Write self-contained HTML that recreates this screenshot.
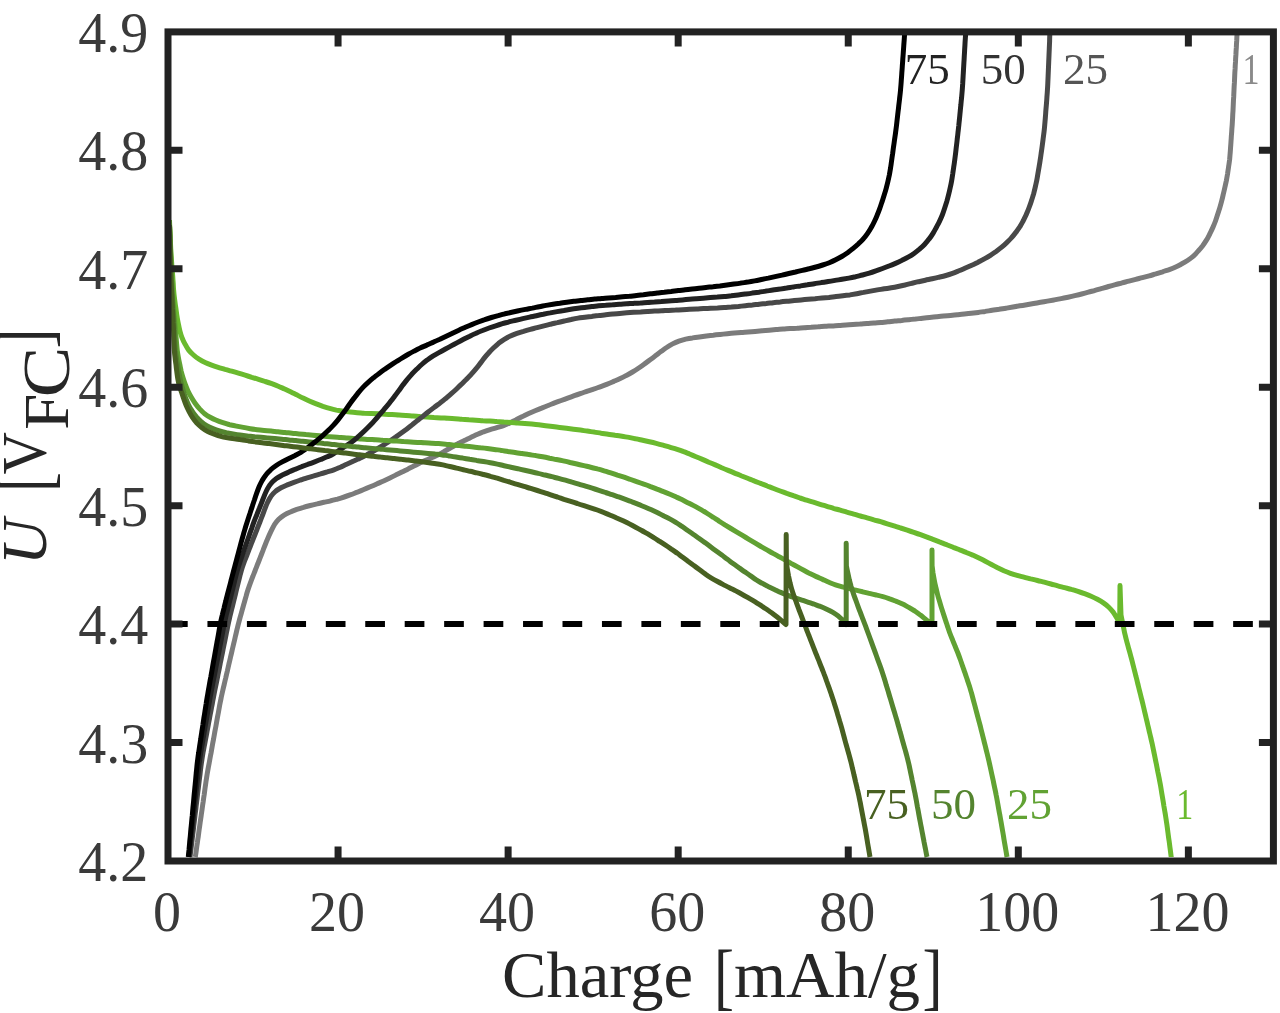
<!DOCTYPE html>
<html lang="en">
<head>
<meta charset="utf-8">
<title>Charge / discharge curves</title>
<style>
html,body{margin:0;padding:0;background:#fff;}
body{width:1280px;height:1013px;overflow:hidden;font-family:"Liberation Serif","DejaVu Serif",serif;}
svg{display:block;}
.curves path{fill:none;stroke-linejoin:round;stroke-linecap:butt;}
.tick{font-family:"Liberation Serif","DejaVu Serif",serif;font-size:56px;fill:#3a3a3a;}
.lab{font-family:"Liberation Serif","DejaVu Serif",serif;fill:#262626;}
.cyc{font-family:"Liberation Serif","DejaVu Serif",serif;font-size:45px;}
</style>
</head>
<body>
<svg width="1280" height="1013" viewBox="0 0 1280 1013">
<rect width="1280" height="1013" fill="#ffffff"/>
<clipPath id="plotclip"><rect x="168.00" y="31.90" width="1105.40" height="829.10"/></clipPath>
<g class="curves" clip-path="url(#plotclip)">
<path d="M195.3 857.0C195.5 855.8 196.0 852.4 196.3 850.1C196.6 847.8 196.9 845.4 197.3 843.1C197.6 840.8 197.9 838.5 198.3 836.2C198.6 833.9 198.9 831.6 199.2 829.3C199.6 827.0 199.9 824.7 200.2 822.3C200.5 820.0 200.9 817.7 201.2 815.4C201.5 813.1 201.9 810.8 202.2 808.5C202.5 806.2 202.8 803.9 203.2 801.6C203.5 799.2 203.8 796.9 204.2 794.6C204.5 792.3 204.8 790.0 205.1 787.7C205.5 785.4 205.8 783.1 206.1 780.8C206.5 778.5 206.8 776.2 207.2 773.9C207.6 771.6 208.0 769.3 208.4 767.0C208.9 764.7 209.3 762.4 209.7 760.1C210.1 757.8 210.5 755.5 211.0 753.2C211.4 750.9 211.8 748.6 212.2 746.3C212.6 744.0 213.0 741.7 213.5 739.4C213.9 737.1 214.3 734.8 214.7 732.5C215.1 730.2 215.6 727.9 216.0 725.6C216.4 723.3 216.8 721.0 217.2 718.8C217.6 716.5 218.1 714.2 218.5 711.9C218.9 709.6 219.3 707.3 219.7 705.0C220.2 702.7 220.6 700.4 221.1 698.1C221.5 695.8 222.1 693.6 222.6 691.3C223.1 689.0 223.6 686.7 224.2 684.5C224.7 682.2 225.2 679.9 225.8 677.6C226.3 675.4 226.8 673.1 227.4 670.8C227.9 668.6 228.4 666.3 228.9 664.0C229.5 661.7 230.0 659.5 230.5 657.2C231.1 654.9 231.6 652.7 232.1 650.4C232.7 648.1 233.2 645.8 233.7 643.6C234.3 641.3 234.8 639.0 235.3 636.7C235.9 634.5 236.4 632.2 236.9 629.9C237.5 627.7 238.0 625.4 238.6 623.1C239.2 620.9 239.8 618.6 240.4 616.4C241.1 614.1 241.7 611.9 242.3 609.6C242.9 607.4 243.6 605.1 244.2 602.9C244.8 600.7 245.4 598.4 246.1 596.2C246.7 593.9 247.3 591.7 248.1 589.4C248.8 587.2 249.6 585.0 250.4 582.8C251.2 580.7 252.0 578.5 252.9 576.3C253.7 574.1 254.6 572.0 255.4 569.8C256.3 567.6 257.1 565.4 258.0 563.3C258.8 561.1 259.7 558.9 260.5 556.8C261.4 554.6 262.2 552.4 263.1 550.2C263.9 548.1 264.7 545.9 265.6 543.7C266.5 541.5 267.4 539.4 268.3 537.3C269.2 535.1 270.2 533.0 271.2 530.9C272.2 528.8 273.2 526.7 274.4 524.7C275.7 522.8 277.1 520.9 278.7 519.3C280.3 517.7 282.2 516.3 284.1 515.1C286.1 513.9 288.2 512.9 290.3 512.0C292.4 511.0 294.6 510.2 296.8 509.4C299.0 508.7 301.3 508.0 303.5 507.4C305.7 506.7 308.0 506.1 310.3 505.5C312.5 504.9 314.8 504.4 317.1 503.9C319.3 503.3 321.6 502.8 323.9 502.3C326.2 501.8 328.5 501.4 330.7 500.8C333.0 500.3 335.2 499.7 337.5 499.1C339.7 498.4 342.0 497.7 344.2 497.0C346.4 496.3 348.6 495.5 350.8 494.7C353.0 493.9 355.1 493.0 357.3 492.2C359.5 491.3 361.6 490.4 363.8 489.5C365.9 488.6 368.1 487.7 370.2 486.8C372.4 485.9 374.5 485.0 376.7 484.0C378.8 483.1 380.9 482.1 383.0 481.2C385.2 480.2 387.3 479.2 389.4 478.2C391.5 477.2 393.6 476.2 395.7 475.1C397.8 474.1 399.9 473.1 401.9 472.0C404.0 471.0 406.1 469.9 408.2 468.9C410.3 467.8 412.3 466.7 414.4 465.7C416.5 464.7 418.6 463.6 420.7 462.6C422.8 461.6 425.0 460.7 427.1 459.7C429.2 458.8 431.4 457.8 433.5 456.9C435.6 455.9 437.7 454.9 439.8 453.9C441.9 452.8 443.9 451.6 445.9 450.5C448.0 449.4 449.9 448.1 452.0 447.0C454.0 445.8 456.1 444.7 458.1 443.6C460.2 442.6 462.3 441.5 464.4 440.5C466.5 439.5 468.6 438.4 470.7 437.4C472.8 436.4 474.9 435.5 477.0 434.5C479.2 433.6 481.3 432.7 483.5 431.8C485.7 431.0 487.9 430.3 490.1 429.6C492.3 428.9 494.6 428.4 496.8 427.7C499.1 427.0 501.3 426.4 503.5 425.6C505.7 424.8 507.8 423.9 509.9 422.9C512.0 421.9 514.1 420.8 516.2 419.8C518.2 418.7 520.3 417.6 522.4 416.6C524.5 415.5 526.6 414.5 528.7 413.5C530.8 412.5 532.9 411.6 535.1 410.7C537.2 409.8 539.4 408.9 541.6 408.1C543.7 407.2 545.9 406.3 548.1 405.5C550.2 404.6 552.4 403.8 554.6 402.9C556.8 402.1 559.0 401.3 561.2 400.5C563.4 399.7 565.5 398.9 567.7 398.1C569.9 397.3 572.1 396.5 574.3 395.7C576.5 395.0 578.7 394.2 580.9 393.4C583.1 392.6 585.3 391.9 587.5 391.1C589.8 390.4 592.0 389.6 594.2 388.9C596.4 388.1 598.6 387.4 600.8 386.6C603.0 385.8 605.2 385.0 607.3 384.1C609.5 383.3 611.7 382.3 613.8 381.4C615.9 380.5 618.1 379.6 620.2 378.6C622.3 377.6 624.4 376.5 626.4 375.4C628.5 374.4 630.5 373.2 632.5 372.0C634.5 370.8 636.5 369.5 638.4 368.2C640.3 366.9 642.2 365.6 644.1 364.2C646.0 362.8 647.9 361.5 649.8 360.1C651.7 358.7 653.5 357.3 655.3 355.8C657.2 354.4 659.0 353.0 660.9 351.6C662.8 350.2 664.6 348.8 666.6 347.5C668.5 346.2 670.5 345.0 672.6 343.9C674.6 342.9 676.8 341.9 678.9 341.1C681.1 340.3 683.4 339.7 685.6 339.1C687.9 338.6 690.2 338.2 692.5 337.9C694.8 337.5 697.1 337.2 699.4 336.9C701.7 336.6 704.0 336.3 706.4 336.0C708.7 335.7 711.0 335.4 713.3 335.2C715.6 334.9 718.0 334.7 720.3 334.5C722.6 334.2 724.9 334.0 727.2 333.8C729.6 333.6 731.9 333.4 734.2 333.1C736.5 332.9 738.9 332.7 741.2 332.5C743.5 332.3 745.8 332.2 748.2 332.0C750.5 331.8 752.8 331.6 755.1 331.4C757.5 331.2 759.8 331.0 762.1 330.8C764.4 330.6 766.8 330.4 769.1 330.2C771.4 330.0 773.7 329.8 776.1 329.6C778.4 329.4 780.7 329.3 783.0 329.1C785.4 328.9 787.7 328.8 790.0 328.6C792.4 328.5 794.7 328.3 797.0 328.2C799.3 328.0 801.7 327.9 804.0 327.7C806.3 327.6 808.7 327.4 811.0 327.3C813.3 327.1 815.6 326.9 818.0 326.8C820.3 326.6 822.6 326.5 824.9 326.3C827.3 326.2 829.6 326.0 831.9 325.9C834.3 325.7 836.6 325.6 838.9 325.4C841.2 325.2 843.6 325.1 845.9 324.9C848.2 324.8 850.6 324.6 852.9 324.4C855.2 324.3 857.5 324.1 859.9 324.0C862.2 323.8 864.5 323.7 866.9 323.5C869.2 323.3 871.5 323.2 873.8 323.0C876.2 322.8 878.5 322.7 880.8 322.5C883.1 322.3 885.5 322.0 887.8 321.8C890.1 321.6 892.4 321.3 894.7 321.1C897.1 320.9 899.4 320.6 901.7 320.4C904.0 320.1 906.4 319.9 908.7 319.7C911.0 319.4 913.3 319.2 915.6 319.0C918.0 318.7 920.3 318.5 922.6 318.2C924.9 318.0 927.2 317.8 929.6 317.5C931.9 317.3 934.2 317.1 936.5 316.8C938.8 316.6 941.2 316.4 943.5 316.1C945.8 315.9 948.1 315.7 950.5 315.4C952.8 315.2 955.1 315.0 957.4 314.7C959.7 314.5 962.1 314.3 964.4 314.0C966.7 313.8 969.0 313.6 971.3 313.3C973.7 313.0 976.0 312.7 978.3 312.4C980.6 312.1 982.9 311.7 985.2 311.4C987.5 311.0 989.8 310.7 992.1 310.3C994.4 310.0 996.8 309.6 999.1 309.3C1001.4 308.9 1003.7 308.6 1006.0 308.2C1008.3 307.8 1010.6 307.4 1012.9 307.0C1015.2 306.6 1017.5 306.2 1019.8 305.8C1022.1 305.5 1024.4 305.1 1026.7 304.7C1029.0 304.3 1031.3 303.9 1033.6 303.5C1035.9 303.1 1038.2 302.7 1040.5 302.3C1042.8 301.9 1045.1 301.5 1047.4 301.1C1049.7 300.7 1052.0 300.3 1054.3 299.9C1056.6 299.5 1058.9 299.1 1061.1 298.6C1063.4 298.2 1065.7 297.7 1068.0 297.2C1070.3 296.7 1072.5 296.2 1074.8 295.6C1077.1 295.1 1079.4 294.6 1081.6 294.0C1083.9 293.4 1086.1 292.8 1088.4 292.2C1090.6 291.6 1092.9 290.9 1095.1 290.3C1097.4 289.7 1099.6 289.0 1101.9 288.4C1104.1 287.8 1106.4 287.2 1108.6 286.5C1110.9 285.9 1113.1 285.3 1115.4 284.7C1117.6 284.1 1119.9 283.4 1122.1 282.8C1124.4 282.2 1126.6 281.7 1128.9 281.1C1131.1 280.5 1133.4 279.9 1135.7 279.3C1137.9 278.7 1140.2 278.2 1142.4 277.6C1144.7 277.0 1147.0 276.4 1149.2 275.8C1151.5 275.2 1153.7 274.5 1155.9 273.9C1158.2 273.2 1160.4 272.5 1162.6 271.8C1164.8 271.0 1167.1 270.4 1169.3 269.6C1171.5 268.8 1173.6 268.0 1175.7 267.0C1177.9 266.1 1179.9 264.9 1181.9 263.8C1183.9 262.7 1186.0 261.5 1187.9 260.2C1189.8 258.9 1191.7 257.6 1193.4 256.1C1195.2 254.5 1196.7 252.8 1198.2 251.0C1199.8 249.3 1201.3 247.5 1202.7 245.7C1204.1 243.8 1205.4 241.9 1206.6 239.9C1207.8 238.0 1208.8 235.8 1209.9 233.8C1210.9 231.7 1211.9 229.6 1212.9 227.4C1213.8 225.3 1214.7 223.2 1215.5 221.0C1216.3 218.8 1217.0 216.5 1217.7 214.3C1218.4 212.1 1219.1 209.9 1219.8 207.7C1220.5 205.4 1221.1 203.2 1221.7 200.9C1222.3 198.7 1222.8 196.4 1223.3 194.1C1223.9 191.9 1224.4 189.6 1224.9 187.3C1225.4 185.0 1225.9 182.8 1226.4 180.5C1226.8 178.2 1227.2 175.9 1227.6 173.6C1227.9 171.3 1228.3 169.0 1228.6 166.7C1229.0 164.3 1229.3 162.0 1229.6 159.7C1229.8 157.4 1230.0 155.1 1230.2 152.8C1230.4 150.4 1230.5 148.1 1230.7 145.8C1230.9 143.4 1231.0 141.1 1231.2 138.8C1231.3 136.5 1231.5 134.1 1231.7 131.8C1231.8 129.5 1232.0 127.1 1232.2 124.8C1232.3 122.5 1232.5 120.2 1232.6 117.8C1232.7 115.5 1232.8 113.2 1233.0 110.8C1233.1 108.5 1233.2 106.2 1233.3 103.9C1233.4 101.5 1233.5 99.2 1233.7 96.9C1233.8 94.5 1233.9 92.2 1234.0 89.9C1234.1 87.5 1234.2 85.2 1234.4 82.9C1234.5 80.5 1234.6 78.2 1234.7 75.9C1234.8 73.6 1234.9 71.2 1235.1 68.9C1235.2 66.6 1235.3 64.2 1235.5 61.9C1235.6 59.6 1235.7 57.2 1235.9 54.9C1236.0 52.6 1236.1 50.3 1236.3 47.9C1236.4 45.6 1236.5 43.3 1236.7 40.9C1236.8 38.6 1236.9 36.1 1237.0 34.0C1237.1 31.8 1237.2 29.0 1237.2 28.0" stroke="#7b7b7b" stroke-width="5.0"/>
<path d="M169.5 220.0C169.5 221.2 169.7 224.7 169.8 227.0C169.9 229.3 170.0 231.7 170.1 234.0C170.2 236.3 170.3 238.6 170.4 241.0C170.5 243.3 170.6 245.6 170.7 248.0C170.8 250.3 170.9 252.6 171.1 255.0C171.2 257.3 171.4 259.6 171.6 261.9C171.7 264.3 171.9 266.6 172.1 268.9C172.3 271.2 172.5 273.6 172.7 275.9C172.8 278.2 173.0 280.6 173.2 282.9C173.3 285.2 173.4 287.5 173.6 289.9C173.8 292.2 174.0 294.5 174.3 296.8C174.6 299.1 174.9 301.5 175.2 303.8C175.5 306.1 175.9 308.4 176.2 310.7C176.5 313.0 176.8 315.3 177.2 317.6C177.6 319.9 178.0 322.2 178.5 324.5C178.9 326.8 179.4 329.1 180.0 331.3C180.6 333.6 181.2 335.8 182.1 337.9C182.9 340.1 183.9 342.2 185.1 344.2C186.2 346.3 187.3 348.3 188.7 350.1C190.1 351.9 191.8 353.5 193.5 355.0C195.2 356.6 197.1 358.0 199.0 359.2C201.0 360.5 203.0 361.5 205.1 362.5C207.2 363.5 209.4 364.3 211.6 365.1C213.8 365.9 216.0 366.6 218.2 367.3C220.5 368.0 222.7 368.6 225.0 369.3C227.2 369.9 229.4 370.6 231.7 371.2C233.9 371.9 236.2 372.6 238.4 373.2C240.6 373.9 242.9 374.6 245.1 375.2C247.3 375.9 249.6 376.6 251.8 377.3C254.0 377.9 256.3 378.6 258.5 379.3C260.7 380.0 262.9 380.7 265.2 381.5C267.4 382.2 269.6 382.9 271.8 383.7C274.0 384.5 276.2 385.3 278.3 386.2C280.5 387.1 282.6 388.1 284.7 389.0C286.8 390.0 288.9 391.0 291.0 392.0C293.1 393.0 295.2 394.1 297.3 395.1C299.4 396.2 301.5 397.3 303.6 398.3C305.6 399.3 307.7 400.3 309.9 401.3C312.0 402.2 314.2 403.1 316.3 403.9C318.5 404.8 320.7 405.6 322.9 406.4C325.1 407.1 327.3 407.8 329.6 408.4C331.8 409.0 334.1 409.6 336.4 410.1C338.7 410.5 340.9 410.9 343.3 411.3C345.6 411.6 347.9 411.8 350.2 412.0C352.5 412.3 354.8 412.5 357.2 412.7C359.5 412.9 361.8 413.0 364.2 413.2C366.5 413.3 368.8 413.4 371.1 413.5C373.5 413.6 375.8 413.7 378.1 413.8C380.5 413.9 382.8 414.0 385.1 414.2C387.5 414.3 389.8 414.5 392.1 414.6C394.4 414.7 396.8 414.9 399.1 415.0C401.4 415.2 403.8 415.3 406.1 415.4C408.4 415.6 410.7 415.7 413.1 415.9C415.4 416.1 417.7 416.2 420.1 416.4C422.4 416.5 424.7 416.7 427.0 416.9C429.4 417.0 431.7 417.2 434.0 417.4C436.3 417.5 438.7 417.7 441.0 417.9C443.3 418.0 445.7 418.2 448.0 418.3C450.3 418.5 452.6 418.7 455.0 418.8C457.3 419.0 459.6 419.1 462.0 419.3C464.3 419.4 466.6 419.6 468.9 419.8C471.3 419.9 473.6 420.1 475.9 420.2C478.3 420.4 480.6 420.5 482.9 420.7C485.2 420.8 487.6 421.0 489.9 421.1C492.2 421.3 494.6 421.4 496.9 421.6C499.2 421.7 501.5 421.9 503.9 422.1C506.2 422.2 508.5 422.4 510.9 422.5C513.2 422.7 515.5 422.8 517.8 423.0C520.2 423.1 522.5 423.3 524.8 423.4C527.1 423.6 529.5 423.8 531.8 424.0C534.1 424.3 536.4 424.6 538.7 424.8C541.1 425.1 543.4 425.4 545.7 425.7C548.0 426.0 550.3 426.3 552.6 426.6C554.9 426.9 557.3 427.2 559.6 427.4C561.9 427.7 564.2 428.0 566.5 428.3C568.8 428.6 571.2 428.9 573.5 429.2C575.8 429.5 578.1 429.8 580.4 430.1C582.7 430.4 585.0 430.8 587.3 431.1C589.6 431.4 592.0 431.8 594.3 432.1C596.6 432.5 598.9 432.8 601.2 433.2C603.5 433.5 605.8 433.9 608.1 434.2C610.4 434.6 612.7 434.9 615.0 435.3C617.3 435.6 619.6 435.9 622.0 436.3C624.3 436.7 626.6 437.0 628.9 437.4C631.2 437.8 633.4 438.3 635.7 438.8C638.0 439.2 640.3 439.8 642.6 440.3C644.8 440.8 647.1 441.3 649.4 441.8C651.7 442.3 653.9 442.8 656.2 443.4C658.5 444.0 660.7 444.6 663.0 445.2C665.2 445.8 667.5 446.5 669.7 447.1C671.9 447.8 674.2 448.4 676.4 449.1C678.6 449.8 680.8 450.5 683.0 451.4C685.2 452.2 687.3 453.1 689.5 454.0C691.7 454.9 693.8 455.8 696.0 456.7C698.1 457.6 700.3 458.5 702.4 459.4C704.6 460.3 706.7 461.2 708.8 462.2C711.0 463.1 713.1 464.0 715.3 464.9C717.4 465.8 719.6 466.8 721.7 467.7C723.9 468.6 726.0 469.5 728.1 470.4C730.3 471.3 732.5 472.2 734.6 473.1C736.8 474.0 739.0 474.8 741.1 475.7C743.3 476.6 745.4 477.4 747.6 478.3C749.8 479.2 752.0 480.0 754.1 480.9C756.3 481.7 758.5 482.6 760.6 483.4C762.8 484.3 765.0 485.1 767.2 486.0C769.3 486.8 771.5 487.7 773.7 488.5C775.9 489.4 778.0 490.2 780.2 491.0C782.4 491.8 784.6 492.6 786.8 493.4C789.0 494.1 791.2 494.9 793.4 495.7C795.6 496.4 797.8 497.2 800.0 498.0C802.2 498.7 804.5 499.5 806.7 500.2C808.9 500.9 811.1 501.6 813.4 502.2C815.6 502.9 817.8 503.6 820.1 504.3C822.3 505.0 824.5 505.6 826.8 506.3C829.0 507.0 831.2 507.6 833.5 508.3C835.7 508.9 838.0 509.6 840.2 510.2C842.4 510.9 844.7 511.5 846.9 512.2C849.2 512.8 851.4 513.5 853.7 514.1C855.9 514.7 858.1 515.4 860.4 516.0C862.6 516.6 864.9 517.3 867.1 517.9C869.4 518.5 871.6 519.1 873.9 519.8C876.1 520.4 878.4 521.1 880.6 521.7C882.8 522.4 885.1 523.1 887.3 523.8C889.5 524.5 891.7 525.2 894.0 525.9C896.2 526.6 898.4 527.2 900.6 528.0C902.9 528.7 905.1 529.4 907.3 530.1C909.5 530.9 911.7 531.7 913.9 532.4C916.1 533.2 918.3 534.0 920.5 534.7C922.7 535.5 924.9 536.3 927.1 537.1C929.3 538.0 931.5 538.8 933.6 539.6C935.8 540.5 938.0 541.3 940.2 542.2C942.3 543.0 944.5 543.9 946.7 544.7C948.9 545.6 951.0 546.4 953.2 547.3C955.4 548.1 957.5 549.0 959.7 549.9C961.9 550.7 964.0 551.6 966.2 552.5C968.4 553.4 970.5 554.2 972.7 555.1C974.8 556.1 976.9 557.1 979.0 558.1C981.1 559.1 983.2 560.1 985.3 561.2C987.3 562.3 989.4 563.4 991.4 564.5C993.5 565.6 995.5 566.7 997.6 567.8C999.7 568.8 1001.8 569.8 1003.9 570.8C1006.1 571.7 1008.3 572.6 1010.4 573.3C1012.6 574.1 1014.9 574.8 1017.1 575.4C1019.3 576.1 1021.6 576.6 1023.9 577.2C1026.1 577.8 1028.4 578.3 1030.7 578.9C1032.9 579.4 1035.2 579.9 1037.5 580.5C1039.7 581.1 1042.0 581.6 1044.3 582.2C1046.5 582.8 1048.8 583.4 1051.0 584.0C1053.3 584.6 1055.5 585.3 1057.8 585.9C1060.0 586.5 1062.3 587.0 1064.6 587.6C1066.8 588.2 1069.1 588.7 1071.3 589.4C1073.6 590.0 1075.8 590.7 1078.0 591.4C1080.2 592.2 1082.4 593.0 1084.6 593.7C1086.8 594.5 1089.0 595.3 1091.1 596.2C1093.3 597.2 1095.4 598.2 1097.4 599.3C1099.4 600.4 1101.5 601.6 1103.4 602.9C1105.3 604.2 1107.1 605.6 1108.8 607.2C1110.5 608.8 1112.0 610.6 1113.4 612.4C1114.8 614.3 1115.9 616.3 1117.0 618.3C1118.0 620.4 1119.2 623.5 1119.7 624.5L1120.0 585.6L1121.0 615.0C1121.2 616.1 1121.9 619.6 1122.4 621.9C1122.8 624.2 1123.3 626.4 1123.8 628.7C1124.2 631.0 1124.7 633.3 1125.3 635.6C1125.8 637.8 1126.4 640.1 1127.0 642.3C1127.6 644.6 1128.2 646.8 1128.8 649.1C1129.5 651.3 1130.1 653.6 1130.7 655.8C1131.3 658.1 1131.9 660.3 1132.5 662.6C1133.1 664.9 1133.6 667.1 1134.2 669.4C1134.8 671.7 1135.4 673.9 1135.9 676.2C1136.5 678.4 1137.1 680.7 1137.6 683.0C1138.2 685.2 1138.7 687.5 1139.3 689.8C1139.9 692.0 1140.4 694.3 1141.0 696.6C1141.6 698.8 1142.1 701.1 1142.7 703.3C1143.2 705.6 1143.8 707.9 1144.3 710.2C1144.8 712.4 1145.4 714.7 1145.9 717.0C1146.4 719.2 1147.0 721.5 1147.5 723.8C1148.0 726.1 1148.6 728.3 1149.1 730.6C1149.6 732.9 1150.2 735.1 1150.7 737.4C1151.2 739.7 1151.8 742.0 1152.3 744.2C1152.8 746.5 1153.2 748.8 1153.7 751.1C1154.2 753.4 1154.6 755.7 1155.1 758.0C1155.5 760.2 1156.0 762.5 1156.5 764.8C1156.9 767.1 1157.4 769.4 1157.8 771.7C1158.3 774.0 1158.8 776.3 1159.2 778.5C1159.6 780.8 1160.1 783.1 1160.5 785.4C1160.9 787.7 1161.3 790.0 1161.6 792.3C1162.0 794.6 1162.4 796.9 1162.8 799.2C1163.2 801.5 1163.6 803.8 1163.9 806.1C1164.3 808.4 1164.7 810.7 1165.1 813.0C1165.5 815.3 1165.8 817.6 1166.2 820.0C1166.5 822.3 1166.9 824.6 1167.2 826.9C1167.5 829.2 1167.8 831.5 1168.1 833.8C1168.4 836.1 1168.7 838.4 1169.1 840.8C1169.4 843.1 1169.7 845.4 1170.0 847.7C1170.3 850.0 1170.7 853.1 1170.9 854.6C1171.1 856.2 1171.2 856.6 1171.2 857.0" stroke="#6aba2e" stroke-width="5.0"/>
<path d="M190.0 857.0C190.1 855.8 190.6 852.4 190.8 850.1C191.1 847.7 191.4 845.4 191.7 843.1C192.0 840.8 192.2 838.5 192.5 836.2C192.8 833.8 193.1 831.5 193.4 829.2C193.6 826.9 193.9 824.6 194.2 822.3C194.5 819.9 194.8 817.6 195.0 815.3C195.3 813.0 195.6 810.7 195.9 808.4C196.1 806.0 196.4 803.7 196.7 801.4C197.0 799.1 197.3 796.8 197.5 794.5C197.8 792.1 198.1 789.8 198.4 787.5C198.7 785.2 198.9 782.9 199.2 780.6C199.5 778.2 199.8 775.9 200.1 773.6C200.3 771.3 200.6 769.0 200.9 766.7C201.2 764.3 201.5 762.0 201.9 759.7C202.2 757.4 202.6 755.1 203.0 752.8C203.5 750.5 203.9 748.2 204.3 745.9C204.8 743.7 205.2 741.4 205.6 739.1C206.0 736.8 206.5 734.5 206.9 732.2C207.3 729.9 207.8 727.6 208.2 725.3C208.6 723.0 209.0 720.7 209.5 718.4C209.9 716.1 210.3 713.8 210.8 711.5C211.2 709.3 211.6 707.0 212.1 704.7C212.5 702.4 212.9 700.1 213.4 697.8C213.8 695.5 214.3 693.2 214.7 690.9C215.2 688.6 215.6 686.3 216.1 684.1C216.6 681.8 217.0 679.5 217.5 677.2C217.9 674.9 218.4 672.6 218.9 670.3C219.3 668.0 219.8 665.8 220.2 663.5C220.7 661.2 221.2 658.9 221.6 656.6C222.1 654.3 222.6 652.0 223.0 649.7C223.5 647.5 223.9 645.2 224.4 642.9C224.9 640.6 225.3 638.3 225.8 636.0C226.2 633.7 226.7 631.4 227.2 629.2C227.6 626.9 228.1 624.6 228.6 622.3C229.1 620.0 229.6 617.8 230.1 615.5C230.7 613.2 231.2 611.0 231.8 608.7C232.4 606.4 232.9 604.2 233.5 601.9C234.0 599.6 234.6 597.4 235.2 595.1C235.7 592.8 236.3 590.6 236.8 588.3C237.4 586.0 238.0 583.8 238.5 581.5C239.1 579.2 239.6 577.0 240.2 574.7C240.8 572.5 241.4 570.2 242.1 568.0C242.8 565.8 243.6 563.6 244.4 561.4C245.2 559.2 246.1 557.0 247.0 554.9C247.8 552.7 248.7 550.5 249.5 548.4C250.4 546.2 251.2 544.0 252.1 541.8C252.9 539.7 253.8 537.5 254.7 535.3C255.5 533.2 256.4 531.0 257.2 528.8C258.1 526.6 258.9 524.5 259.8 522.3C260.6 520.1 261.4 517.9 262.3 515.8C263.1 513.6 263.9 511.4 264.7 509.2C265.6 507.0 266.4 504.8 267.4 502.7C268.4 500.6 269.4 498.5 270.7 496.7C272.0 494.8 273.5 493.0 275.2 491.6C276.9 490.1 279.0 488.9 281.0 487.8C283.0 486.7 285.2 485.8 287.3 484.9C289.5 484.0 291.7 483.2 293.9 482.4C296.0 481.6 298.2 480.8 300.5 480.0C302.7 479.3 304.9 478.5 307.1 477.8C309.3 477.1 311.6 476.4 313.8 475.8C316.0 475.1 318.3 474.4 320.5 473.8C322.7 473.1 325.0 472.5 327.2 471.9C329.5 471.2 331.7 470.6 333.9 469.8C336.1 469.0 338.2 468.1 340.4 467.2C342.5 466.3 344.6 465.2 346.7 464.3C348.9 463.3 351.0 462.3 353.1 461.3C355.2 460.4 357.3 459.4 359.5 458.4C361.6 457.4 363.7 456.5 365.8 455.4C367.9 454.4 369.9 453.2 371.9 452.1C373.9 450.9 375.9 449.7 377.9 448.5C379.9 447.3 381.9 446.1 383.9 444.8C385.9 443.6 387.8 442.3 389.8 441.0C391.7 439.7 393.6 438.4 395.6 437.1C397.5 435.8 399.4 434.4 401.3 433.0C403.1 431.7 405.0 430.3 406.9 428.9C408.7 427.5 410.6 426.0 412.4 424.6C414.3 423.1 416.1 421.7 417.9 420.2C419.7 418.8 421.5 417.3 423.4 415.9C425.2 414.4 427.0 412.9 428.8 411.5C430.7 410.1 432.5 408.6 434.4 407.2C436.2 405.8 438.2 404.5 440.0 403.1C441.9 401.7 443.7 400.2 445.5 398.7C447.3 397.3 449.1 395.7 450.8 394.2C452.6 392.6 454.3 391.1 456.0 389.5C457.7 387.9 459.3 386.2 461.0 384.6C462.7 383.0 464.3 381.3 466.0 379.7C467.6 378.0 469.3 376.4 470.9 374.7C472.4 373.0 474.0 371.2 475.5 369.4C477.0 367.6 478.4 365.8 479.8 363.9C481.2 362.1 482.6 360.2 484.0 358.4C485.5 356.5 487.0 354.7 488.6 353.0C490.1 351.3 491.7 349.6 493.4 348.0C495.1 346.4 496.8 344.8 498.6 343.3C500.4 341.9 502.3 340.5 504.3 339.3C506.3 338.1 508.3 337.0 510.4 336.0C512.5 335.0 514.7 334.2 516.9 333.4C519.1 332.6 521.3 331.9 523.5 331.3C525.8 330.6 528.0 330.0 530.3 329.4C532.6 328.8 534.8 328.3 537.1 327.7C539.3 327.1 541.6 326.5 543.9 325.9C546.1 325.4 548.4 324.8 550.6 324.2C552.9 323.7 555.2 323.1 557.4 322.6C559.7 322.0 562.0 321.5 564.3 321.0C566.5 320.5 568.8 319.9 571.1 319.5C573.4 319.0 575.7 318.5 578.0 318.1C580.3 317.7 582.6 317.5 584.9 317.2C587.2 316.9 589.5 316.6 591.8 316.4C594.2 316.1 596.5 315.8 598.8 315.6C601.1 315.3 603.4 315.1 605.8 314.8C608.1 314.6 610.4 314.4 612.7 314.1C615.0 313.9 617.4 313.7 619.7 313.4C622.0 313.2 624.3 313.0 626.7 312.8C629.0 312.6 631.3 312.4 633.6 312.2C636.0 312.1 638.3 312.0 640.6 311.9C642.9 311.7 645.3 311.6 647.6 311.5C649.9 311.4 652.3 311.3 654.6 311.1C656.9 311.0 659.3 310.9 661.6 310.8C663.9 310.7 666.3 310.5 668.6 310.4C670.9 310.3 673.2 310.2 675.6 310.1C677.9 309.9 680.2 309.8 682.6 309.7C684.9 309.6 687.2 309.5 689.6 309.3C691.9 309.2 694.2 309.1 696.5 309.0C698.9 308.9 701.2 308.7 703.5 308.6C705.9 308.5 708.2 308.4 710.5 308.2C712.9 308.1 715.2 308.0 717.5 307.9C719.8 307.7 722.2 307.6 724.5 307.5C726.8 307.3 729.2 307.2 731.5 307.0C733.8 306.8 736.1 306.6 738.5 306.4C740.8 306.1 743.1 305.9 745.4 305.7C747.7 305.5 750.1 305.2 752.4 305.0C754.7 304.7 757.0 304.5 759.3 304.2C761.7 304.0 764.0 303.7 766.3 303.5C768.6 303.2 770.9 303.0 773.3 302.7C775.6 302.5 777.9 302.2 780.2 302.0C782.5 301.7 784.9 301.5 787.2 301.3C789.5 301.1 791.8 300.8 794.2 300.6C796.5 300.4 798.8 300.2 801.1 299.9C803.4 299.7 805.8 299.5 808.1 299.3C810.4 299.1 812.7 298.9 815.1 298.7C817.4 298.4 819.7 298.2 822.0 298.0C824.4 297.8 826.7 297.6 829.0 297.4C831.3 297.1 833.6 296.9 836.0 296.6C838.3 296.4 840.6 296.1 842.9 295.8C845.2 295.5 847.6 295.2 849.9 294.9C852.2 294.5 854.5 294.1 856.7 293.7C859.0 293.3 861.3 292.8 863.6 292.4C865.9 291.9 868.2 291.5 870.5 291.1C872.8 290.7 875.1 290.3 877.4 289.9C879.7 289.5 882.0 289.2 884.3 288.8C886.6 288.5 888.9 288.1 891.2 287.7C893.5 287.4 895.8 287.0 898.1 286.5C900.4 286.0 902.7 285.5 904.9 285.0C907.2 284.4 909.5 283.9 911.8 283.3C914.0 282.8 916.3 282.3 918.6 281.7C920.8 281.2 923.1 280.7 925.4 280.2C927.7 279.7 930.0 279.3 932.2 278.8C934.5 278.3 936.8 277.8 939.1 277.2C941.3 276.7 943.6 276.2 945.9 275.5C948.1 274.9 950.3 274.2 952.5 273.4C954.7 272.6 956.8 271.7 959.0 270.8C961.1 269.9 963.3 269.0 965.4 268.0C967.6 267.1 969.7 266.2 971.8 265.2C974.0 264.3 976.0 263.2 978.1 262.2C980.2 261.1 982.3 260.1 984.3 258.9C986.4 257.8 988.4 256.7 990.4 255.4C992.3 254.2 994.2 252.8 996.1 251.5C998.0 250.1 999.9 248.7 1001.7 247.2C1003.5 245.7 1005.2 244.2 1006.9 242.5C1008.5 240.9 1010.2 239.3 1011.7 237.5C1013.3 235.8 1014.7 234.0 1016.1 232.1C1017.5 230.3 1018.8 228.3 1020.1 226.4C1021.3 224.4 1022.4 222.3 1023.5 220.3C1024.5 218.2 1025.6 216.1 1026.5 214.0C1027.4 211.8 1028.3 209.7 1029.1 207.5C1029.9 205.3 1030.7 203.1 1031.4 200.9C1032.2 198.7 1032.8 196.4 1033.5 194.2C1034.1 191.9 1034.7 189.7 1035.2 187.4C1035.7 185.1 1036.2 182.9 1036.7 180.6C1037.2 178.3 1037.5 176.0 1037.9 173.7C1038.3 171.4 1038.7 169.1 1039.1 166.8C1039.5 164.5 1039.9 162.2 1040.2 159.9C1040.6 157.6 1040.9 155.3 1041.2 153.0C1041.6 150.6 1041.9 148.3 1042.2 146.0C1042.5 143.7 1042.8 141.4 1043.1 139.1C1043.4 136.8 1043.7 134.5 1044.0 132.1C1044.3 129.8 1044.5 127.5 1044.7 125.2C1044.9 122.9 1045.1 120.5 1045.3 118.2C1045.5 115.9 1045.7 113.6 1045.8 111.2C1046.0 108.9 1046.2 106.6 1046.4 104.2C1046.6 101.9 1046.8 99.6 1046.9 97.3C1047.1 94.9 1047.3 92.6 1047.4 90.3C1047.6 88.0 1047.7 85.6 1047.8 83.3C1047.9 81.0 1048.0 78.6 1048.1 76.3C1048.2 74.0 1048.3 71.6 1048.4 69.3C1048.5 67.0 1048.6 64.6 1048.7 62.3C1048.8 60.0 1048.9 57.7 1049.0 55.3C1049.1 53.0 1049.2 50.7 1049.3 48.3C1049.4 46.0 1049.5 43.7 1049.6 41.3C1049.6 39.0 1049.7 36.6 1049.8 34.3C1049.9 32.1 1050.0 29.1 1050.0 28.0" stroke="#484848" stroke-width="5.0"/>
<path d="M169.5 225.0C169.6 226.2 169.7 229.7 169.8 232.0C169.9 234.3 170.0 236.7 170.1 239.0C170.2 241.3 170.3 243.6 170.4 246.0C170.5 248.3 170.6 250.6 170.7 253.0C170.8 255.3 170.9 257.6 171.1 260.0C171.2 262.3 171.3 264.6 171.4 267.0C171.5 269.3 171.6 271.6 171.7 274.0C171.8 276.3 171.9 278.6 172.0 280.9C172.2 283.3 172.3 285.6 172.4 287.9C172.5 290.3 172.6 292.6 172.8 294.9C172.9 297.3 173.0 299.6 173.2 301.9C173.4 304.2 173.6 306.6 173.7 308.9C173.9 311.2 174.1 313.5 174.3 315.9C174.5 318.2 174.7 320.5 174.9 322.8C175.1 325.2 175.3 327.5 175.5 329.8C175.7 332.1 175.8 334.5 176.0 336.8C176.2 339.1 176.4 341.4 176.6 343.8C176.8 346.1 177.0 348.4 177.3 350.7C177.6 353.0 178.0 355.3 178.4 357.6C178.8 359.9 179.3 362.2 179.8 364.5C180.2 366.8 180.7 369.1 181.2 371.3C181.8 373.6 182.4 375.8 183.1 378.1C183.8 380.3 184.5 382.5 185.4 384.7C186.2 386.9 187.0 389.0 188.0 391.1C189.0 393.2 190.1 395.3 191.3 397.3C192.5 399.3 193.7 401.3 195.1 403.2C196.4 405.0 197.9 406.9 199.4 408.6C201.0 410.3 202.6 412.0 204.3 413.5C206.1 414.9 208.1 416.2 210.1 417.3C212.1 418.4 214.2 419.4 216.4 420.3C218.5 421.3 220.7 422.0 222.9 422.7C225.1 423.5 227.4 424.1 229.6 424.7C231.9 425.2 234.2 425.7 236.5 426.1C238.7 426.6 241.0 427.0 243.3 427.4C245.6 427.9 247.9 428.3 250.2 428.7C252.5 429.1 254.8 429.4 257.1 429.7C259.5 430.0 261.8 430.2 264.1 430.4C266.4 430.7 268.7 430.9 271.1 431.1C273.4 431.3 275.7 431.6 278.0 431.8C280.4 432.0 282.7 432.3 285.0 432.5C287.3 432.7 289.6 433.0 292.0 433.2C294.3 433.4 296.6 433.7 298.9 433.9C301.3 434.1 303.6 434.3 305.9 434.6C308.2 434.8 310.5 435.0 312.9 435.2C315.2 435.5 317.5 435.7 319.8 435.8C322.2 436.0 324.5 436.2 326.8 436.4C329.1 436.5 331.5 436.7 333.8 436.9C336.1 437.1 338.5 437.2 340.8 437.4C343.1 437.6 345.4 437.7 347.8 437.9C350.1 438.1 352.4 438.2 354.7 438.4C357.1 438.6 359.4 438.7 361.7 438.9C364.1 439.1 366.4 439.2 368.7 439.4C371.0 439.5 373.4 439.7 375.7 439.8C378.0 440.0 380.4 440.1 382.7 440.3C385.0 440.4 387.3 440.5 389.7 440.7C392.0 440.8 394.3 441.0 396.7 441.1C399.0 441.3 401.3 441.4 403.6 441.6C406.0 441.7 408.3 441.9 410.6 442.0C413.0 442.2 415.3 442.3 417.6 442.4C419.9 442.5 422.3 442.7 424.6 442.8C426.9 442.9 429.3 443.0 431.6 443.2C433.9 443.3 436.3 443.4 438.6 443.6C440.9 443.8 443.2 444.0 445.6 444.2C447.9 444.4 450.2 444.7 452.5 444.9C454.8 445.1 457.2 445.4 459.5 445.6C461.8 445.8 464.1 446.1 466.4 446.3C468.8 446.6 471.1 446.8 473.4 447.0C475.7 447.3 478.0 447.5 480.4 447.8C482.7 448.0 485.0 448.2 487.3 448.5C489.6 448.8 492.0 449.1 494.3 449.4C496.6 449.7 498.9 450.1 501.2 450.4C503.5 450.8 505.8 451.1 508.1 451.5C510.4 451.8 512.7 452.2 515.0 452.5C517.3 452.9 519.7 453.2 522.0 453.5C524.3 453.9 526.6 454.2 528.9 454.6C531.2 454.9 533.5 455.3 535.8 455.6C538.1 456.0 540.4 456.4 542.7 456.8C545.0 457.2 547.3 457.7 549.6 458.2C551.9 458.6 554.1 459.1 556.4 459.5C558.7 460.0 561.0 460.5 563.3 460.9C565.6 461.4 567.8 461.9 570.1 462.5C572.4 463.0 574.7 463.5 576.9 464.0C579.2 464.6 581.5 465.1 583.8 465.6C586.0 466.1 588.3 466.7 590.6 467.2C592.8 467.7 595.1 468.3 597.4 468.9C599.6 469.4 601.9 470.1 604.1 470.8C606.3 471.4 608.6 472.2 610.8 472.9C613.0 473.6 615.2 474.3 617.4 475.1C619.7 475.8 621.9 476.5 624.1 477.2C626.3 478.0 628.5 478.7 630.7 479.5C632.9 480.3 635.1 481.1 637.3 481.8C639.5 482.6 641.7 483.4 643.9 484.2C646.1 484.9 648.3 485.7 650.5 486.6C652.7 487.4 654.8 488.2 657.0 489.1C659.2 489.9 661.3 490.8 663.5 491.7C665.7 492.5 667.9 493.4 670.0 494.3C672.2 495.2 674.3 496.1 676.4 497.1C678.5 498.0 680.6 499.1 682.7 500.1C684.8 501.1 686.9 502.2 689.0 503.2C691.1 504.3 693.2 505.3 695.2 506.4C697.3 507.5 699.3 508.6 701.4 509.8C703.4 511.0 705.3 512.2 707.3 513.5C709.2 514.7 711.2 516.0 713.2 517.3C715.1 518.6 717.1 519.8 719.0 521.1C721.0 522.4 722.9 523.6 724.9 524.9C726.9 526.1 728.9 527.3 730.9 528.5C732.9 529.7 734.9 530.9 736.9 532.1C738.9 533.3 740.9 534.5 742.9 535.7C744.9 536.9 746.9 538.1 748.9 539.3C750.9 540.5 752.9 541.7 754.9 542.9C756.9 544.1 758.9 545.3 760.9 546.5C763.0 547.6 765.0 548.8 767.0 549.9C769.1 551.1 771.1 552.2 773.1 553.4C775.2 554.5 777.2 555.6 779.2 556.8C781.3 557.9 783.3 559.0 785.4 560.2C787.4 561.3 789.4 562.4 791.5 563.6C793.5 564.7 795.6 565.8 797.6 566.9C799.7 568.1 801.7 569.2 803.8 570.3C805.8 571.4 807.9 572.5 809.9 573.6C812.0 574.6 814.1 575.6 816.3 576.6C818.4 577.5 820.5 578.5 822.6 579.4C824.8 580.4 826.9 581.4 829.0 582.3C831.2 583.2 833.3 584.1 835.5 584.8C837.7 585.6 840.0 586.2 842.2 586.8C844.5 587.4 846.8 587.9 849.0 588.5C851.3 589.1 853.5 589.6 855.8 590.2C858.1 590.8 860.3 591.3 862.6 591.8C864.9 592.4 867.2 592.9 869.4 593.4C871.7 593.9 874.0 594.4 876.3 595.0C878.5 595.5 880.8 596.0 883.0 596.7C885.3 597.3 887.5 598.1 889.7 598.9C891.9 599.6 894.1 600.5 896.2 601.3C898.4 602.2 900.5 603.1 902.6 604.1C904.7 605.1 906.7 606.3 908.8 607.4C910.8 608.6 912.8 609.8 914.8 611.0C916.7 612.3 918.6 613.7 920.4 615.1C922.3 616.5 923.9 618.0 925.8 619.5C927.8 621.1 931.0 623.7 932.0 624.5L932.0 550.0L932.1 566.0C932.3 567.2 932.7 570.6 933.0 572.9C933.4 575.2 933.8 577.5 934.2 579.8C934.6 582.1 935.1 584.4 935.7 586.7C936.2 588.9 936.7 591.2 937.3 593.5C937.8 595.7 938.5 598.0 939.2 600.2C939.8 602.5 940.5 604.7 941.2 606.9C941.9 609.1 942.6 611.4 943.3 613.6C944.0 615.8 944.8 618.0 945.5 620.2C946.2 622.4 947.0 624.7 947.7 626.9C948.5 629.1 949.2 631.3 950.0 633.5C950.8 635.7 951.7 637.8 952.6 640.0C953.4 642.2 954.4 644.3 955.2 646.5C956.1 648.6 957.0 650.8 957.9 653.0C958.7 655.1 959.5 657.3 960.3 659.5C961.1 661.7 961.8 663.9 962.6 666.1C963.4 668.3 964.1 670.5 964.9 672.7C965.7 674.9 966.4 677.1 967.2 679.4C967.9 681.6 968.7 683.8 969.4 686.0C970.1 688.2 970.7 690.5 971.4 692.7C972.0 694.9 972.6 697.2 973.2 699.5C973.8 701.7 974.4 704.0 975.0 706.2C975.6 708.5 976.2 710.7 976.8 713.0C977.4 715.2 978.0 717.5 978.6 719.8C979.2 722.0 979.8 724.3 980.4 726.5C980.9 728.8 981.5 731.1 982.1 733.3C982.6 735.6 983.2 737.8 983.8 740.1C984.3 742.4 984.9 744.6 985.5 746.9C986.0 749.2 986.6 751.4 987.2 753.7C987.7 756.0 988.3 758.2 988.8 760.5C989.3 762.8 989.8 765.0 990.3 767.3C990.8 769.6 991.3 771.9 991.8 774.2C992.3 776.5 992.8 778.7 993.3 781.0C993.7 783.3 994.2 785.6 994.7 787.9C995.2 790.1 995.7 792.4 996.1 794.7C996.6 797.0 997.0 799.3 997.4 801.6C997.8 803.9 998.2 806.2 998.6 808.5C999.0 810.8 999.4 813.1 999.9 815.4C1000.3 817.7 1000.7 820.0 1001.1 822.3C1001.5 824.6 1001.9 826.9 1002.3 829.2C1002.7 831.5 1003.1 833.8 1003.5 836.1C1003.8 838.4 1004.2 840.7 1004.6 843.0C1005.0 845.3 1005.4 847.5 1005.8 849.9C1006.2 852.2 1006.8 855.8 1007.0 857.0" stroke="#61a233" stroke-width="5.0"/>
<path d="M189.0 857.0C189.1 855.8 189.5 852.4 189.8 850.0C190.0 847.7 190.3 845.4 190.5 843.1C190.8 840.8 191.0 838.4 191.3 836.1C191.5 833.8 191.8 831.5 192.0 829.2C192.3 826.8 192.5 824.5 192.8 822.2C193.0 819.9 193.3 817.6 193.5 815.2C193.8 812.9 194.0 810.6 194.3 808.3C194.5 806.0 194.8 803.6 195.0 801.3C195.3 799.0 195.5 796.7 195.8 794.4C196.0 792.0 196.3 789.7 196.5 787.4C196.8 785.1 197.0 782.8 197.3 780.4C197.5 778.1 197.8 775.8 198.0 773.5C198.3 771.2 198.5 768.8 198.8 766.5C199.1 764.2 199.3 761.9 199.7 759.6C200.0 757.3 200.4 755.0 200.7 752.7C201.1 750.4 201.5 748.1 201.9 745.8C202.3 743.5 202.7 741.2 203.1 738.9C203.5 736.6 203.9 734.3 204.2 732.0C204.6 729.7 205.0 727.4 205.4 725.1C205.8 722.8 206.2 720.5 206.6 718.2C207.0 715.9 207.4 713.6 207.8 711.3C208.1 709.0 208.5 706.7 208.9 704.4C209.3 702.1 209.7 699.8 210.1 697.5C210.6 695.2 211.0 692.9 211.4 690.6C211.9 688.3 212.3 686.0 212.7 683.7C213.2 681.4 213.6 679.1 214.1 676.8C214.5 674.5 215.0 672.3 215.4 670.0C215.8 667.7 216.3 665.4 216.7 663.1C217.2 660.8 217.6 658.5 218.0 656.2C218.5 653.9 218.9 651.6 219.4 649.3C219.8 647.0 220.2 644.8 220.7 642.5C221.1 640.2 221.6 637.9 222.0 635.6C222.4 633.3 222.9 631.0 223.3 628.7C223.8 626.4 224.2 624.1 224.7 621.9C225.2 619.6 225.7 617.3 226.2 615.0C226.8 612.8 227.4 610.5 227.9 608.2C228.5 606.0 229.0 603.7 229.6 601.4C230.2 599.2 230.7 596.9 231.3 594.6C231.8 592.4 232.4 590.1 233.0 587.8C233.5 585.6 234.1 583.3 234.6 581.1C235.2 578.8 235.7 576.5 236.3 574.3C236.9 572.0 237.5 569.7 238.2 567.5C238.8 565.3 239.6 563.1 240.3 560.9C241.1 558.6 241.9 556.5 242.6 554.2C243.4 552.0 244.2 549.8 244.9 547.6C245.7 545.4 246.5 543.2 247.2 541.0C248.0 538.8 248.8 536.6 249.5 534.4C250.3 532.2 251.1 530.0 251.9 527.8C252.6 525.6 253.4 523.4 254.2 521.2C255.1 519.1 255.9 516.9 256.8 514.7C257.6 512.5 258.5 510.4 259.4 508.2C260.2 506.0 261.1 503.9 262.0 501.7C262.9 499.6 263.6 497.3 264.5 495.2C265.4 493.1 266.3 490.9 267.4 488.9C268.5 486.9 269.8 484.9 271.3 483.2C272.8 481.4 274.5 479.9 276.4 478.5C278.2 477.2 280.3 476.1 282.3 475.0C284.4 474.0 286.5 473.0 288.7 472.1C290.8 471.1 293.0 470.2 295.1 469.3C297.3 468.5 299.4 467.6 301.6 466.7C303.8 465.9 306.0 465.1 308.2 464.2C310.3 463.4 312.5 462.6 314.7 461.8C316.9 461.0 319.1 460.2 321.3 459.3C323.4 458.5 325.6 457.6 327.7 456.6C329.8 455.7 331.9 454.7 333.9 453.5C336.0 452.4 337.9 451.0 339.8 449.8C341.8 448.5 343.8 447.3 345.7 446.0C347.7 444.7 349.7 443.5 351.5 442.2C353.4 440.8 355.2 439.3 356.9 437.8C358.7 436.2 360.4 434.6 362.1 433.1C363.9 431.5 365.6 429.9 367.2 428.3C368.9 426.6 370.5 425.0 372.1 423.3C373.7 421.5 375.2 419.8 376.8 418.0C378.3 416.3 379.8 414.5 381.3 412.7C382.8 410.9 384.3 409.2 385.8 407.4C387.3 405.6 388.8 403.8 390.2 401.9C391.7 400.1 393.1 398.3 394.5 396.4C396.0 394.6 397.3 392.6 398.7 390.8C400.1 388.9 401.4 387.0 402.8 385.1C404.2 383.3 405.7 381.4 407.1 379.6C408.6 377.8 410.1 376.1 411.7 374.3C413.3 372.6 414.9 371.0 416.6 369.3C418.3 367.7 419.9 366.1 421.7 364.5C423.4 363.0 425.2 361.5 427.1 360.1C428.9 358.7 430.8 357.4 432.8 356.1C434.8 354.9 436.8 353.7 438.9 352.6C440.9 351.5 443.0 350.4 445.0 349.3C447.1 348.2 449.1 347.1 451.2 345.9C453.2 344.8 455.3 343.7 457.3 342.6C459.4 341.5 461.4 340.4 463.5 339.3C465.6 338.2 467.7 337.2 469.8 336.2C471.8 335.1 473.9 334.1 476.1 333.2C478.2 332.2 480.4 331.3 482.5 330.5C484.7 329.6 486.9 328.8 489.1 328.0C491.3 327.2 493.5 326.5 495.7 325.8C497.9 325.1 500.2 324.4 502.4 323.7C504.6 323.1 506.9 322.4 509.1 321.8C511.4 321.3 513.7 320.7 515.9 320.2C518.2 319.7 520.5 319.2 522.8 318.6C525.0 318.1 527.3 317.6 529.6 317.1C531.9 316.6 534.2 316.2 536.4 315.7C538.7 315.2 541.0 314.7 543.3 314.3C545.6 313.8 547.9 313.3 550.2 312.9C552.4 312.4 554.7 312.0 557.0 311.6C559.3 311.2 561.6 310.8 563.9 310.5C566.2 310.1 568.5 309.7 570.8 309.3C573.2 308.9 575.5 308.6 577.8 308.3C580.1 308.0 582.4 307.7 584.7 307.4C587.0 307.1 589.3 306.9 591.7 306.6C594.0 306.3 596.3 306.1 598.6 305.8C600.9 305.6 603.3 305.4 605.6 305.3C607.9 305.1 610.3 304.9 612.6 304.8C614.9 304.6 617.2 304.5 619.6 304.3C621.9 304.1 624.2 304.0 626.6 303.8C628.9 303.7 631.2 303.5 633.5 303.4C635.9 303.2 638.2 303.0 640.5 302.9C642.8 302.7 645.2 302.6 647.5 302.4C649.8 302.3 652.2 302.1 654.5 302.0C656.8 301.8 659.1 301.6 661.5 301.5C663.8 301.3 666.1 301.1 668.5 300.9C670.8 300.8 673.1 300.6 675.4 300.4C677.8 300.2 680.1 300.1 682.4 299.9C684.7 299.7 687.1 299.5 689.4 299.3C691.7 299.2 694.0 299.0 696.4 298.8C698.7 298.6 701.0 298.4 703.3 298.2C705.7 298.0 708.0 297.8 710.3 297.6C712.6 297.4 715.0 297.2 717.3 297.1C719.6 296.9 721.9 296.7 724.3 296.5C726.6 296.3 728.9 296.0 731.2 295.8C733.6 295.5 735.9 295.2 738.2 294.9C740.5 294.7 742.8 294.4 745.1 294.1C747.4 293.8 749.8 293.5 752.1 293.1C754.4 292.8 756.7 292.5 759.0 292.2C761.3 291.8 763.6 291.5 765.9 291.1C768.2 290.8 770.5 290.4 772.8 290.1C775.2 289.8 777.5 289.4 779.8 289.1C782.1 288.7 784.4 288.3 786.7 288.0C789.0 287.6 791.3 287.3 793.6 286.9C795.9 286.6 798.2 286.2 800.5 285.9C802.8 285.5 805.1 285.1 807.4 284.8C809.7 284.4 812.0 284.1 814.4 283.7C816.7 283.3 819.0 283.0 821.3 282.6C823.6 282.3 825.9 281.9 828.2 281.5C830.5 281.2 832.8 280.8 835.1 280.4C837.4 280.0 839.7 279.7 842.0 279.3C844.3 278.9 846.6 278.5 848.9 278.1C851.2 277.7 853.5 277.2 855.7 276.7C858.0 276.1 860.3 275.6 862.6 275.0C864.8 274.4 867.0 273.8 869.3 273.1C871.5 272.4 873.7 271.6 875.9 270.8C878.1 270.1 880.3 269.3 882.5 268.5C884.7 267.7 886.9 266.9 889.0 266.0C891.2 265.2 893.4 264.3 895.5 263.4C897.7 262.5 899.8 261.5 901.9 260.4C903.9 259.4 906.0 258.4 908.1 257.2C910.1 256.1 912.1 254.9 914.0 253.5C915.9 252.2 917.7 250.7 919.5 249.2C921.2 247.7 922.9 246.2 924.5 244.5C926.1 242.8 927.6 241.0 929.0 239.1C930.4 237.3 931.8 235.4 933.0 233.4C934.2 231.4 935.3 229.3 936.4 227.3C937.5 225.2 938.6 223.2 939.6 221.1C940.6 219.0 941.5 216.9 942.4 214.7C943.3 212.5 944.0 210.3 944.7 208.1C945.4 205.9 946.1 203.6 946.8 201.4C947.4 199.2 948.0 196.9 948.6 194.7C949.2 192.4 949.7 190.1 950.2 187.8C950.7 185.6 951.2 183.3 951.6 181.0C952.0 178.7 952.3 176.4 952.7 174.1C953.0 171.8 953.4 169.5 953.7 167.2C954.1 164.8 954.4 162.5 954.7 160.2C955.0 157.9 955.3 155.6 955.6 153.3C955.9 151.0 956.1 148.6 956.4 146.3C956.7 144.0 957.0 141.7 957.2 139.4C957.5 137.1 957.8 134.7 958.0 132.4C958.3 130.1 958.5 127.8 958.8 125.5C959.0 123.1 959.3 120.8 959.5 118.5C959.7 116.2 960.0 113.9 960.2 111.5C960.4 109.2 960.6 106.9 960.9 104.6C961.1 102.2 961.3 99.9 961.6 97.6C961.8 95.3 962.0 93.0 962.2 90.6C962.4 88.3 962.5 86.0 962.7 83.7C962.8 81.3 963.0 79.0 963.1 76.7C963.2 74.3 963.4 72.0 963.5 69.7C963.6 67.3 963.8 65.0 963.9 62.7C964.1 60.4 964.2 58.0 964.3 55.7C964.5 53.4 964.6 51.0 964.7 48.7C964.9 46.4 965.0 44.1 965.1 41.7C965.3 39.4 965.4 37.0 965.6 34.7C965.7 32.4 965.9 29.1 966.0 28.0" stroke="#222222" stroke-width="5.0"/>
<path d="M169.5 225.0C169.5 226.2 169.7 229.7 169.7 232.0C169.8 234.3 169.9 236.7 170.0 239.0C170.0 241.3 170.1 243.7 170.2 246.0C170.3 248.3 170.4 250.7 170.4 253.0C170.5 255.3 170.6 257.6 170.7 260.0C170.7 262.3 170.8 264.6 170.9 267.0C171.0 269.3 171.1 271.6 171.2 274.0C171.3 276.3 171.4 278.6 171.5 281.0C171.7 283.3 171.8 285.6 171.9 288.0C172.0 290.3 172.1 292.6 172.3 294.9C172.4 297.3 172.5 299.6 172.6 301.9C172.8 304.3 172.9 306.6 173.1 308.9C173.2 311.2 173.4 313.6 173.6 315.9C173.7 318.2 173.9 320.6 174.0 322.9C174.2 325.2 174.3 327.5 174.4 329.9C174.6 332.2 174.6 334.5 174.7 336.9C174.8 339.2 174.9 341.5 175.0 343.9C175.1 346.2 175.2 348.5 175.4 350.8C175.7 353.2 176.0 355.5 176.4 357.8C176.7 360.1 177.2 362.4 177.6 364.7C177.9 367.0 178.3 369.3 178.7 371.6C179.2 373.8 179.6 376.2 180.0 378.4C180.5 380.7 181.1 383.0 181.7 385.2C182.3 387.5 182.9 389.7 183.6 392.0C184.3 394.2 185.0 396.4 185.9 398.6C186.7 400.7 187.6 402.9 188.6 405.0C189.6 407.1 190.8 409.1 192.1 411.0C193.3 412.9 194.7 414.8 196.2 416.6C197.7 418.3 199.4 420.0 201.1 421.5C202.8 423.0 204.7 424.4 206.7 425.6C208.7 426.8 210.8 427.7 212.9 428.6C215.1 429.5 217.3 430.3 219.5 431.0C221.7 431.7 224.0 432.2 226.3 432.7C228.5 433.1 230.8 433.5 233.1 433.9C235.4 434.3 237.7 434.7 240.0 435.0C242.4 435.3 244.7 435.6 247.0 435.9C249.3 436.2 251.6 436.4 253.9 436.7C256.3 436.9 258.6 437.1 260.9 437.3C263.2 437.6 265.6 437.8 267.9 438.0C270.2 438.2 272.5 438.4 274.9 438.6C277.2 438.8 279.5 439.0 281.8 439.2C284.2 439.4 286.5 439.7 288.8 439.9C291.1 440.1 293.4 440.4 295.8 440.6C298.1 440.8 300.4 441.1 302.7 441.3C305.0 441.6 307.4 441.8 309.7 442.0C312.0 442.3 314.3 442.5 316.6 442.7C319.0 443.0 321.3 443.2 323.6 443.5C325.9 443.7 328.3 444.0 330.6 444.2C332.9 444.4 335.2 444.7 337.5 444.9C339.9 445.2 342.2 445.4 344.5 445.7C346.8 445.9 349.1 446.2 351.5 446.4C353.8 446.6 356.1 446.9 358.4 447.1C360.7 447.3 363.1 447.6 365.4 447.8C367.7 448.0 370.0 448.2 372.4 448.4C374.7 448.6 377.0 448.8 379.3 449.0C381.7 449.2 384.0 449.5 386.3 449.7C388.6 449.9 391.0 450.1 393.3 450.3C395.6 450.5 397.9 450.7 400.2 450.9C402.6 451.1 404.9 451.3 407.2 451.5C409.5 451.8 411.9 452.0 414.2 452.2C416.5 452.4 418.8 452.6 421.2 452.8C423.5 453.0 425.8 453.2 428.1 453.4C430.5 453.6 432.8 453.8 435.1 454.1C437.4 454.3 439.7 454.6 442.1 454.9C444.4 455.2 446.7 455.6 449.0 455.9C451.3 456.3 453.6 456.7 455.9 457.0C458.2 457.4 460.5 457.8 462.8 458.1C465.1 458.5 467.4 458.9 469.7 459.3C472.0 459.6 474.3 460.0 476.6 460.4C478.9 460.7 481.2 461.1 483.5 461.5C485.8 461.9 488.1 462.3 490.4 462.7C492.7 463.1 495.0 463.6 497.3 464.1C499.5 464.6 501.8 465.2 504.1 465.7C506.4 466.2 508.7 466.7 510.9 467.2C513.2 467.7 515.5 468.2 517.8 468.7C520.0 469.3 522.3 469.8 524.6 470.3C526.9 470.8 529.1 471.3 531.4 471.8C533.7 472.3 536.0 472.8 538.2 473.4C540.5 473.9 542.8 474.5 545.0 475.0C547.3 475.6 549.6 476.1 551.8 476.7C554.1 477.3 556.4 477.8 558.6 478.4C560.9 479.0 563.1 479.6 565.4 480.2C567.6 480.8 569.9 481.5 572.1 482.2C574.3 482.8 576.6 483.5 578.8 484.2C581.0 484.9 583.3 485.5 585.5 486.2C587.7 486.9 590.0 487.6 592.2 488.2C594.4 488.9 596.7 489.6 598.9 490.3C601.1 491.0 603.3 491.7 605.6 492.5C607.8 493.2 610.0 494.0 612.2 494.7C614.4 495.4 616.6 496.2 618.8 496.9C621.0 497.7 623.2 498.5 625.4 499.3C627.6 500.1 629.8 500.9 632.0 501.8C634.1 502.6 636.3 503.5 638.5 504.4C640.6 505.3 642.8 506.1 644.9 507.0C647.1 507.9 649.2 508.8 651.4 509.8C653.5 510.8 655.6 511.8 657.7 512.8C659.8 513.9 661.8 514.9 663.9 516.0C666.0 517.0 668.1 518.0 670.2 519.1C672.2 520.2 674.3 521.3 676.2 522.6C678.2 523.8 680.1 525.1 682.1 526.4C684.0 527.8 685.9 529.1 687.8 530.5C689.7 531.8 691.6 533.1 693.5 534.5C695.4 535.8 697.3 537.2 699.2 538.5C701.1 539.9 703.0 541.3 704.9 542.6C706.8 544.0 708.7 545.4 710.5 546.8C712.4 548.2 714.3 549.6 716.2 551.0C718.0 552.3 719.9 553.7 721.8 555.1C723.7 556.5 725.5 557.9 727.4 559.3C729.3 560.7 731.1 562.1 733.0 563.5C734.9 564.9 736.8 566.2 738.7 567.6C740.6 568.9 742.5 570.3 744.4 571.6C746.3 572.9 748.2 574.3 750.2 575.6C752.1 576.9 754.0 578.3 755.9 579.6C757.9 580.8 759.8 582.1 761.9 583.2C763.9 584.4 766.0 585.3 768.1 586.4C770.2 587.4 772.3 588.4 774.4 589.4C776.5 590.4 778.6 591.5 780.7 592.4C782.9 593.4 785.0 594.3 787.2 595.1C789.4 595.9 791.6 596.7 793.8 597.4C796.0 598.2 798.2 598.9 800.4 599.6C802.6 600.3 804.9 601.1 807.1 601.8C809.3 602.5 811.5 603.3 813.7 604.0C815.9 604.8 818.1 605.5 820.3 606.4C822.5 607.2 824.6 608.2 826.7 609.2C828.8 610.2 830.9 611.2 832.9 612.4C834.9 613.6 836.8 614.9 838.6 616.3C840.4 617.8 842.3 619.7 843.6 621.1C844.9 622.5 845.8 623.9 846.2 624.5L846.2 543.2L846.4 566.0C846.6 567.1 847.3 570.6 847.8 572.9C848.3 575.1 848.8 577.4 849.3 579.7C849.9 581.9 850.5 584.2 851.1 586.4C851.8 588.7 852.5 590.9 853.2 593.1C853.9 595.3 854.8 597.5 855.6 599.7C856.4 601.9 857.2 604.1 858.0 606.3C858.8 608.5 859.6 610.6 860.5 612.8C861.3 615.0 862.2 617.2 863.0 619.4C863.8 621.5 864.7 623.7 865.5 625.9C866.3 628.1 867.1 630.3 867.9 632.5C868.7 634.6 869.5 636.8 870.3 639.0C871.1 641.2 871.9 643.4 872.7 645.6C873.5 647.8 874.3 650.0 875.1 652.2C875.9 654.4 876.7 656.6 877.5 658.8C878.3 661.0 879.1 663.1 879.9 665.3C880.7 667.5 881.5 669.7 882.2 671.9C882.9 674.2 883.6 676.4 884.3 678.6C885.0 680.8 885.7 683.1 886.3 685.3C887.0 687.6 887.7 689.8 888.4 692.0C889.0 694.3 889.7 696.5 890.4 698.7C891.0 701.0 891.7 703.2 892.4 705.4C893.1 707.7 893.7 709.9 894.4 712.1C895.1 714.4 895.7 716.6 896.4 718.8C897.1 721.1 897.7 723.3 898.3 725.6C899.0 727.8 899.6 730.1 900.2 732.3C900.9 734.6 901.5 736.8 902.1 739.1C902.7 741.3 903.4 743.6 904.0 745.8C904.6 748.0 905.3 750.3 905.9 752.5C906.5 754.8 907.1 757.0 907.7 759.3C908.3 761.6 908.8 763.8 909.3 766.1C909.8 768.4 910.2 770.7 910.7 773.0C911.2 775.2 911.7 777.5 912.1 779.8C912.6 782.1 913.1 784.4 913.6 786.7C914.0 789.0 914.5 791.2 915.0 793.5C915.4 795.8 915.9 798.1 916.3 800.4C916.7 802.7 917.1 805.0 917.5 807.3C918.0 809.6 918.4 811.9 918.8 814.2C919.2 816.5 919.6 818.8 920.1 821.1C920.5 823.3 920.9 825.6 921.4 827.9C921.8 830.2 922.2 832.5 922.7 834.8C923.1 837.1 923.6 839.4 924.0 841.7C924.5 844.0 924.9 846.3 925.4 848.6C925.8 850.8 926.4 854.0 926.7 855.4C927.0 856.8 926.9 856.7 927.0 857.0" stroke="#54842f" stroke-width="5.0"/>
<path d="M188.3 857.0C188.4 855.8 188.7 852.4 189.0 850.0C189.2 847.7 189.4 845.4 189.6 843.1C189.8 840.7 190.1 838.4 190.3 836.1C190.5 833.8 190.7 831.4 190.9 829.1C191.2 826.8 191.4 824.5 191.6 822.2C191.8 819.8 192.0 817.5 192.3 815.2C192.5 812.9 192.7 810.5 192.9 808.2C193.1 805.9 193.4 803.6 193.6 801.3C193.8 798.9 194.0 796.6 194.2 794.3C194.5 792.0 194.7 789.6 194.9 787.3C195.1 785.0 195.4 782.7 195.6 780.3C195.8 778.0 196.0 775.7 196.2 773.4C196.5 771.1 196.7 768.7 196.9 766.4C197.1 764.1 197.4 761.8 197.7 759.5C198.0 757.1 198.3 754.8 198.7 752.5C199.0 750.2 199.4 747.9 199.7 745.6C200.1 743.3 200.4 741.0 200.8 738.7C201.1 736.4 201.5 734.1 201.8 731.8C202.2 729.5 202.5 727.2 202.9 724.8C203.2 722.5 203.6 720.2 203.9 717.9C204.3 715.6 204.7 713.3 205.0 711.0C205.4 708.7 205.7 706.4 206.1 704.1C206.4 701.8 206.8 699.5 207.2 697.2C207.6 694.9 208.0 692.6 208.4 690.3C208.8 688.0 209.2 685.7 209.6 683.4C210.0 681.1 210.4 678.8 210.9 676.5C211.3 674.2 211.7 671.9 212.1 669.6C212.5 667.3 212.9 665.0 213.3 662.7C213.7 660.4 214.2 658.1 214.6 655.8C215.0 653.5 215.4 651.2 215.8 648.9C216.2 646.6 216.6 644.3 217.0 642.1C217.5 639.8 217.9 637.5 218.3 635.2C218.7 632.9 219.1 630.6 219.5 628.3C219.9 626.0 220.4 623.7 220.8 621.4C221.3 619.1 221.8 616.8 222.4 614.6C222.9 612.3 223.5 610.0 224.1 607.8C224.6 605.5 225.2 603.3 225.8 601.0C226.3 598.7 226.9 596.5 227.5 594.2C228.1 592.0 228.7 589.7 229.3 587.4C229.9 585.2 230.5 582.9 231.0 580.7C231.6 578.4 232.2 576.2 232.8 573.9C233.4 571.6 234.0 569.4 234.6 567.1C235.2 564.9 235.8 562.6 236.4 560.4C237.0 558.1 237.6 555.9 238.2 553.6C238.8 551.3 239.4 549.1 240.0 546.8C240.6 544.6 241.2 542.3 241.8 540.1C242.4 537.8 243.1 535.6 243.7 533.3C244.4 531.1 245.0 528.9 245.7 526.6C246.4 524.4 247.1 522.2 247.8 519.9C248.5 517.7 249.2 515.5 250.0 513.3C250.7 511.1 251.4 508.9 252.2 506.6C252.9 504.4 253.6 502.2 254.4 500.0C255.1 497.8 255.8 495.6 256.6 493.4C257.4 491.2 258.2 489.0 259.1 486.8C260.0 484.7 261.0 482.6 262.1 480.6C263.3 478.6 264.5 476.6 266.0 474.8C267.4 473.0 269.0 471.3 270.7 469.8C272.4 468.2 274.3 466.8 276.2 465.5C278.1 464.2 280.2 463.0 282.2 461.9C284.2 460.8 286.3 459.7 288.4 458.7C290.5 457.7 292.6 456.7 294.7 455.7C296.8 454.6 298.9 453.6 300.9 452.4C302.9 451.2 304.7 449.8 306.6 448.5C308.5 447.1 310.3 445.7 312.2 444.2C314.0 442.8 315.8 441.3 317.6 439.9C319.5 438.4 321.2 436.9 323.0 435.3C324.7 433.8 326.5 432.2 328.1 430.6C329.8 429.0 331.4 427.3 333.0 425.6C334.6 423.9 336.1 422.1 337.6 420.3C339.1 418.5 340.5 416.7 341.9 414.8C343.3 413.0 344.7 411.1 346.1 409.2C347.5 407.3 348.8 405.4 350.1 403.5C351.5 401.6 352.9 399.7 354.3 397.9C355.7 396.0 357.2 394.2 358.6 392.4C360.1 390.6 361.6 388.8 363.2 387.1C364.8 385.4 366.5 383.8 368.2 382.3C370.0 380.7 371.8 379.2 373.6 377.7C375.4 376.3 377.2 374.8 379.1 373.4C381.0 372.0 382.8 370.7 384.7 369.3C386.7 368.0 388.6 366.7 390.5 365.4C392.5 364.1 394.4 362.8 396.4 361.5C398.3 360.3 400.3 359.0 402.3 357.8C404.3 356.6 406.3 355.4 408.3 354.3C410.4 353.1 412.4 352.0 414.5 350.9C416.6 349.9 418.6 348.8 420.7 347.8C422.8 346.8 425.0 345.9 427.1 344.9C429.3 344.0 431.4 343.0 433.5 342.1C435.6 341.1 437.8 340.1 439.9 339.2C442.0 338.2 444.1 337.2 446.2 336.2C448.3 335.2 450.4 334.2 452.5 333.2C454.6 332.2 456.7 331.2 458.9 330.2C461.0 329.2 463.1 328.3 465.3 327.3C467.4 326.4 469.5 325.5 471.7 324.6C473.9 323.7 476.0 322.9 478.2 322.0C480.4 321.2 482.6 320.4 484.8 319.7C487.0 318.9 489.2 318.2 491.4 317.5C493.7 316.8 495.9 316.2 498.2 315.6C500.4 314.9 502.7 314.4 504.9 313.8C507.2 313.3 509.5 312.8 511.8 312.3C514.0 311.8 516.3 311.3 518.6 310.8C520.9 310.4 523.2 309.9 525.5 309.4C527.8 309.0 530.0 308.5 532.3 308.1C534.6 307.6 536.9 307.2 539.2 306.7C541.5 306.3 543.8 305.8 546.1 305.4C548.4 305.0 550.7 304.6 553.0 304.2C555.3 303.8 557.6 303.5 559.9 303.2C562.2 302.8 564.5 302.5 566.8 302.2C569.1 301.9 571.5 301.6 573.8 301.3C576.1 301.0 578.4 300.8 580.7 300.5C583.0 300.3 585.4 300.0 587.7 299.8C590.0 299.6 592.3 299.3 594.7 299.1C597.0 298.9 599.3 298.6 601.6 298.4C603.9 298.2 606.3 298.1 608.6 297.9C610.9 297.7 613.3 297.5 615.6 297.4C617.9 297.2 620.2 297.0 622.6 296.8C624.9 296.7 627.2 296.5 629.5 296.3C631.9 296.0 634.2 295.8 636.5 295.5C638.8 295.2 641.1 294.9 643.4 294.7C645.8 294.4 648.1 294.1 650.4 293.8C652.7 293.5 655.0 293.3 657.3 293.0C659.7 292.7 662.0 292.4 664.3 292.2C666.6 291.9 668.9 291.6 671.2 291.4C673.6 291.1 675.9 290.9 678.2 290.6C680.5 290.3 682.8 290.1 685.2 289.8C687.5 289.6 689.8 289.3 692.1 289.0C694.4 288.8 696.8 288.5 699.1 288.2C701.4 288.0 703.7 287.7 706.0 287.4C708.3 287.2 710.7 286.9 713.0 286.7C715.3 286.4 717.6 286.1 719.9 285.9C722.3 285.6 724.6 285.3 726.9 285.0C729.2 284.7 731.5 284.4 733.8 284.1C736.1 283.8 738.4 283.5 740.8 283.1C743.1 282.8 745.4 282.4 747.7 282.1C750.0 281.7 752.3 281.3 754.6 280.9C756.9 280.5 759.1 280.0 761.4 279.5C763.7 279.0 766.0 278.5 768.3 278.1C770.6 277.6 772.8 277.1 775.1 276.6C777.4 276.1 779.7 275.6 782.0 275.1C784.2 274.5 786.5 274.0 788.8 273.5C791.1 273.0 793.3 272.5 795.6 272.0C797.9 271.4 800.2 270.9 802.4 270.4C804.7 269.9 807.0 269.3 809.2 268.8C811.5 268.2 813.8 267.7 816.0 267.0C818.3 266.4 820.5 265.7 822.7 265.0C824.9 264.3 827.1 263.6 829.3 262.7C831.5 261.8 833.6 260.9 835.7 259.8C837.7 258.8 839.8 257.7 841.8 256.5C843.8 255.3 845.7 254.0 847.6 252.7C849.5 251.3 851.4 249.9 853.2 248.4C855.0 247.0 856.8 245.4 858.5 243.8C860.1 242.2 861.8 240.6 863.3 238.8C864.8 237.1 866.3 235.2 867.6 233.3C868.9 231.4 870.2 229.5 871.3 227.4C872.5 225.4 873.5 223.3 874.5 221.2C875.5 219.1 876.5 217.0 877.3 214.8C878.2 212.7 879.0 210.5 879.8 208.3C880.6 206.1 881.3 203.9 882.1 201.7C882.8 199.4 883.5 197.2 884.2 195.0C884.9 192.8 885.6 190.5 886.2 188.3C886.8 186.0 887.4 183.8 887.9 181.5C888.4 179.2 888.9 176.9 889.4 174.7C889.8 172.4 890.2 170.1 890.6 167.8C890.9 165.5 891.3 163.2 891.6 160.8C891.9 158.5 892.2 156.2 892.6 153.9C892.9 151.6 893.2 149.3 893.5 147.0C893.9 144.7 894.2 142.4 894.5 140.0C894.8 137.7 895.2 135.4 895.5 133.1C895.8 130.8 896.1 128.5 896.4 126.2C896.7 123.9 896.9 121.5 897.2 119.2C897.5 116.9 897.7 114.6 898.0 112.3C898.3 110.0 898.6 107.6 898.8 105.3C899.1 103.0 899.4 100.7 899.6 98.4C899.9 96.0 900.2 93.7 900.4 91.4C900.6 89.1 900.8 86.8 901.0 84.4C901.2 82.1 901.3 79.8 901.5 77.5C901.7 75.1 901.8 72.8 902.0 70.5C902.2 68.1 902.3 65.8 902.5 63.5C902.7 61.2 902.8 58.8 903.0 56.5C903.2 54.2 903.3 51.9 903.5 49.5C903.7 47.2 903.8 44.9 904.0 42.5C904.2 40.2 904.3 38.0 904.5 35.6C904.7 33.1 904.9 29.3 905.0 28.0" stroke="#000000" stroke-width="5.0"/>
<path d="M169.5 225.0C169.5 226.2 169.6 229.7 169.7 232.0C169.7 234.3 169.8 236.7 169.8 239.0C169.9 241.3 169.9 243.7 170.0 246.0C170.0 248.3 170.1 250.7 170.1 253.0C170.2 255.3 170.2 257.7 170.3 260.0C170.3 262.3 170.4 264.7 170.5 267.0C170.5 269.3 170.6 271.7 170.7 274.0C170.8 276.3 170.9 278.6 171.0 281.0C171.2 283.3 171.3 285.6 171.4 288.0C171.5 290.3 171.6 292.6 171.7 295.0C171.9 297.3 172.0 299.6 172.1 301.9C172.2 304.3 172.3 306.6 172.4 308.9C172.6 311.3 172.7 313.6 172.8 315.9C172.9 318.3 173.0 320.6 173.1 322.9C173.3 325.3 173.4 327.6 173.5 329.9C173.6 332.2 173.6 334.6 173.7 336.9C173.8 339.2 173.9 341.6 174.0 343.9C174.1 346.2 174.2 348.6 174.4 350.9C174.5 353.2 174.8 355.5 175.1 357.8C175.3 360.2 175.7 362.5 176.0 364.8C176.2 367.1 176.5 369.4 176.8 371.7C177.1 374.0 177.4 376.4 177.8 378.7C178.2 380.9 178.7 383.2 179.3 385.5C179.9 387.7 180.7 389.9 181.5 392.1C182.2 394.3 183.0 396.5 183.7 398.7C184.5 400.9 185.2 403.2 186.1 405.3C187.0 407.4 188.0 409.5 189.1 411.6C190.2 413.7 191.3 415.7 192.6 417.6C193.9 419.5 195.3 421.4 196.8 423.1C198.4 424.8 200.2 426.3 202.0 427.7C203.8 429.1 205.7 430.4 207.8 431.5C209.8 432.5 212.0 433.3 214.2 434.1C216.4 434.9 218.6 435.7 220.8 436.3C223.0 437.0 225.3 437.4 227.6 437.8C229.9 438.2 232.2 438.5 234.5 438.8C236.8 439.2 239.1 439.5 241.5 439.8C243.8 440.2 246.1 440.5 248.4 440.9C250.7 441.2 253.0 441.5 255.3 441.9C257.6 442.2 259.9 442.5 262.2 442.8C264.6 443.1 266.9 443.3 269.2 443.6C271.5 443.9 273.8 444.2 276.1 444.5C278.5 444.8 280.8 445.1 283.1 445.4C285.4 445.7 287.7 445.9 290.0 446.2C292.3 446.5 294.7 446.8 297.0 447.1C299.3 447.4 301.6 447.7 303.9 448.0C306.2 448.3 308.6 448.5 310.9 448.8C313.2 449.1 315.5 449.4 317.8 449.7C320.1 450.0 322.4 450.3 324.8 450.6C327.1 450.8 329.4 451.1 331.7 451.4C334.0 451.7 336.3 452.0 338.7 452.3C341.0 452.6 343.3 452.8 345.6 453.1C347.9 453.4 350.2 453.7 352.6 454.0C354.9 454.3 357.2 454.5 359.5 454.8C361.8 455.1 364.1 455.3 366.5 455.6C368.8 455.8 371.1 456.1 373.4 456.3C375.7 456.6 378.1 456.8 380.4 457.1C382.7 457.3 385.0 457.6 387.3 457.8C389.7 458.0 392.0 458.3 394.3 458.5C396.6 458.8 398.9 459.0 401.3 459.3C403.6 459.5 405.9 459.8 408.2 460.0C410.5 460.3 412.9 460.6 415.2 460.9C417.5 461.2 419.8 461.5 422.1 461.8C424.4 462.1 426.7 462.4 429.0 462.7C431.4 463.1 433.7 463.3 436.0 463.7C438.3 464.1 440.6 464.5 442.9 464.9C445.1 465.4 447.4 466.0 449.7 466.5C452.0 467.0 454.2 467.6 456.5 468.1C458.8 468.6 461.0 469.2 463.3 469.7C465.6 470.2 467.9 470.8 470.1 471.3C472.4 471.8 474.7 472.4 476.9 472.9C479.2 473.5 481.5 474.0 483.7 474.5C486.0 475.1 488.3 475.6 490.5 476.3C492.8 476.9 495.0 477.6 497.2 478.2C499.5 478.9 501.7 479.6 503.9 480.3C506.2 480.9 508.4 481.6 510.6 482.3C512.9 483.0 515.1 483.7 517.3 484.3C519.6 485.0 521.8 485.7 524.0 486.4C526.3 487.1 528.5 487.7 530.7 488.4C533.0 489.1 535.2 489.8 537.4 490.5C539.6 491.2 541.9 491.9 544.1 492.6C546.3 493.3 548.5 494.1 550.7 494.8C552.9 495.6 555.1 496.3 557.4 497.0C559.6 497.8 561.8 498.5 564.0 499.3C566.2 500.0 568.4 500.7 570.7 501.4C572.9 502.1 575.1 502.8 577.3 503.5C579.6 504.3 581.8 505.0 584.0 505.7C586.2 506.4 588.4 507.1 590.7 507.8C592.9 508.5 595.1 509.2 597.3 510.0C599.5 510.8 601.7 511.6 603.8 512.5C606.0 513.4 608.1 514.3 610.3 515.2C612.4 516.1 614.6 517.0 616.7 518.0C618.9 518.9 621.0 519.8 623.1 520.8C625.2 521.8 627.3 522.8 629.4 523.9C631.5 525.0 633.5 526.1 635.6 527.2C637.6 528.3 639.7 529.4 641.7 530.5C643.8 531.7 645.8 532.7 647.8 533.9C649.9 535.1 651.8 536.3 653.8 537.6C655.8 538.8 657.7 540.1 659.7 541.4C661.6 542.7 663.6 544.0 665.5 545.2C667.5 546.5 669.4 547.8 671.3 549.1C673.3 550.4 675.2 551.8 677.1 553.1C679.0 554.5 680.8 555.9 682.7 557.3C684.6 558.7 686.5 560.1 688.3 561.5C690.2 562.8 692.1 564.2 693.9 565.6C695.8 567.0 697.7 568.4 699.6 569.8C701.5 571.2 703.3 572.6 705.2 573.9C707.1 575.3 709.0 576.6 711.0 577.8C713.0 579.0 715.1 580.2 717.1 581.3C719.1 582.4 721.2 583.5 723.3 584.6C725.3 585.6 727.4 586.7 729.5 587.7C731.6 588.8 733.7 589.8 735.8 590.9C737.8 592.0 739.9 593.1 741.9 594.2C744.0 595.3 746.0 596.5 748.0 597.7C750.0 598.9 752.0 600.0 754.0 601.2C756.0 602.4 758.0 603.7 760.0 604.9C761.9 606.2 763.9 607.5 765.8 608.8C767.7 610.1 769.7 611.4 771.6 612.7C773.5 614.1 775.3 615.5 777.2 617.0C779.0 618.4 781.0 620.2 782.5 621.5C784.0 622.7 785.4 624.0 786.0 624.5L786.2 534.4L786.4 562.0C786.6 563.2 786.9 566.6 787.3 568.9C787.7 571.2 788.1 573.5 788.5 575.8C789.0 578.1 789.5 580.4 790.0 582.7C790.6 584.9 791.1 587.2 791.8 589.4C792.4 591.7 793.2 593.9 794.0 596.1C794.7 598.3 795.6 600.4 796.4 602.6C797.2 604.8 798.0 607.0 798.8 609.2C799.7 611.4 800.5 613.5 801.3 615.7C802.1 617.9 803.0 620.1 803.8 622.3C804.6 624.5 805.5 626.6 806.3 628.8C807.1 631.0 808.0 633.2 808.8 635.3C809.7 637.5 810.5 639.7 811.4 641.9C812.2 644.0 813.0 646.2 813.9 648.4C814.7 650.6 815.6 652.7 816.5 654.9C817.3 657.1 818.2 659.2 819.1 661.4C819.9 663.6 820.8 665.7 821.7 667.9C822.5 670.1 823.4 672.2 824.2 674.4C825.1 676.6 825.9 678.8 826.6 681.0C827.4 683.2 828.2 685.4 829.0 687.6C829.7 689.8 830.5 692.0 831.3 694.2C832.0 696.4 832.8 698.6 833.5 700.8C834.2 703.0 834.9 705.3 835.6 707.5C836.3 709.7 837.0 712.0 837.6 714.2C838.3 716.4 839.0 718.7 839.6 720.9C840.3 723.1 841.0 725.4 841.6 727.6C842.2 729.9 842.8 732.1 843.4 734.4C844.0 736.6 844.6 738.9 845.2 741.1C845.8 743.4 846.5 745.6 847.1 747.9C847.7 750.1 848.4 752.4 849.0 754.6C849.6 756.9 850.2 759.1 850.8 761.4C851.4 763.7 851.9 765.9 852.4 768.2C853.0 770.5 853.5 772.7 854.0 775.0C854.6 777.3 855.1 779.6 855.6 781.8C856.2 784.1 856.7 786.4 857.2 788.6C857.8 790.9 858.3 793.2 858.8 795.5C859.3 797.8 859.7 800.0 860.2 802.3C860.6 804.6 861.0 806.9 861.5 809.2C861.9 811.5 862.4 813.8 862.8 816.1C863.2 818.4 863.7 820.7 864.1 823.0C864.5 825.2 865.0 827.5 865.4 829.8C865.8 832.1 866.2 834.4 866.6 836.7C867.0 839.0 867.3 841.3 867.7 843.6C868.1 845.9 868.5 848.3 868.9 850.5C869.3 852.8 869.8 855.9 870.0 857.0" stroke="#486021" stroke-width="5.0"/>
</g>
<path d="M168.00 624.11H1273.40" fill="none" stroke="#000" stroke-width="6" stroke-dasharray="19.7 19.75"/>
<g class="cyc">
<text x="904.8" y="83.9" fill="#222222">75</text>
<text x="980.8" y="83.9" fill="#333333">50</text>
<text x="1063" y="84.2" fill="#555555">25</text>
<text x="1242.4" y="84.2" fill="#8a8a8a" textLength="17" lengthAdjust="spacingAndGlyphs">1</text>
<text x="864" y="818.5" fill="#486021">75</text>
<text x="931" y="818.5" fill="#54842f">50</text>
<text x="1007" y="818.5" fill="#61a233">25</text>
<text x="1176.2" y="818.5" fill="#6aba2e" textLength="17" lengthAdjust="spacingAndGlyphs">1</text>
</g>
<g fill="none" stroke="#222222" stroke-width="7.0">
<path d="M338.06 861.00V846.50M338.06 31.90V46.40M508.12 861.00V846.50M508.12 31.90V46.40M678.18 861.00V846.50M678.18 31.90V46.40M848.25 861.00V846.50M848.25 31.90V46.40M1018.31 861.00V846.50M1018.31 31.90V46.40M1188.37 861.00V846.50M1188.37 31.90V46.40M168.00 742.56H182.50M1273.40 742.56H1258.90M168.00 624.11H182.50M1273.40 624.11H1258.90M168.00 505.67H182.50M1273.40 505.67H1258.90M168.00 387.23H182.50M1273.40 387.23H1258.90M168.00 268.79H182.50M1273.40 268.79H1258.90M168.00 150.34H182.50M1273.40 150.34H1258.90"/>
<rect x="168.00" y="31.90" width="1105.40" height="829.10"/>
</g>
<g class="tick">
<text x="167.0" y="931.0" text-anchor="middle">0</text>
<text x="337.1" y="931.0" text-anchor="middle">20</text>
<text x="507.1" y="931.0" text-anchor="middle">40</text>
<text x="677.2" y="931.0" text-anchor="middle">60</text>
<text x="847.2" y="931.0" text-anchor="middle">80</text>
<text x="1017.3" y="931.0" text-anchor="middle">100</text>
<text x="1187.4" y="931.0" text-anchor="middle">120</text>
<text x="148.3" y="881.0" text-anchor="end">4.2</text>
<text x="148.3" y="762.6" text-anchor="end">4.3</text>
<text x="148.3" y="644.1" text-anchor="end">4.4</text>
<text x="148.3" y="525.7" text-anchor="end">4.5</text>
<text x="148.3" y="407.2" text-anchor="end">4.6</text>
<text x="148.3" y="288.8" text-anchor="end">4.7</text>
<text x="148.3" y="170.3" text-anchor="end">4.8</text>
<text x="148.3" y="51.9" text-anchor="end">4.9</text>
</g>
<text class="lab" y="996.5" font-size="65"><tspan x="502" y="996.5" textLength="191" lengthAdjust="spacingAndGlyphs">Charge</tspan> <tspan x="714" y="1001.3" font-size="73" textLength="20" lengthAdjust="spacingAndGlyphs">[</tspan><tspan x="734" y="996.5" textLength="186" lengthAdjust="spacingAndGlyphs">mAh/g</tspan><tspan x="922.5" y="1001.3" font-size="73" textLength="20" lengthAdjust="spacingAndGlyphs">]</tspan></text>
<text class="lab" transform="translate(46 560) rotate(-90)" font-size="63.5"><tspan x="-5" y="0" font-style="italic" textLength="46" lengthAdjust="spacingAndGlyphs">U</tspan> <tspan x="68" y="4.3" font-size="77" textLength="20" lengthAdjust="spacingAndGlyphs">[</tspan><tspan x="85.5" y="0" textLength="42.5" lengthAdjust="spacingAndGlyphs">V</tspan><tspan x="130.3" y="22" textLength="36" lengthAdjust="spacingAndGlyphs">F</tspan><tspan x="162.5" y="22.6" font-size="68" textLength="51" lengthAdjust="spacingAndGlyphs">C</tspan><tspan x="211.5" y="4.3" font-size="77" textLength="20" lengthAdjust="spacingAndGlyphs">]</tspan></text>
</svg>
</body>
</html>
